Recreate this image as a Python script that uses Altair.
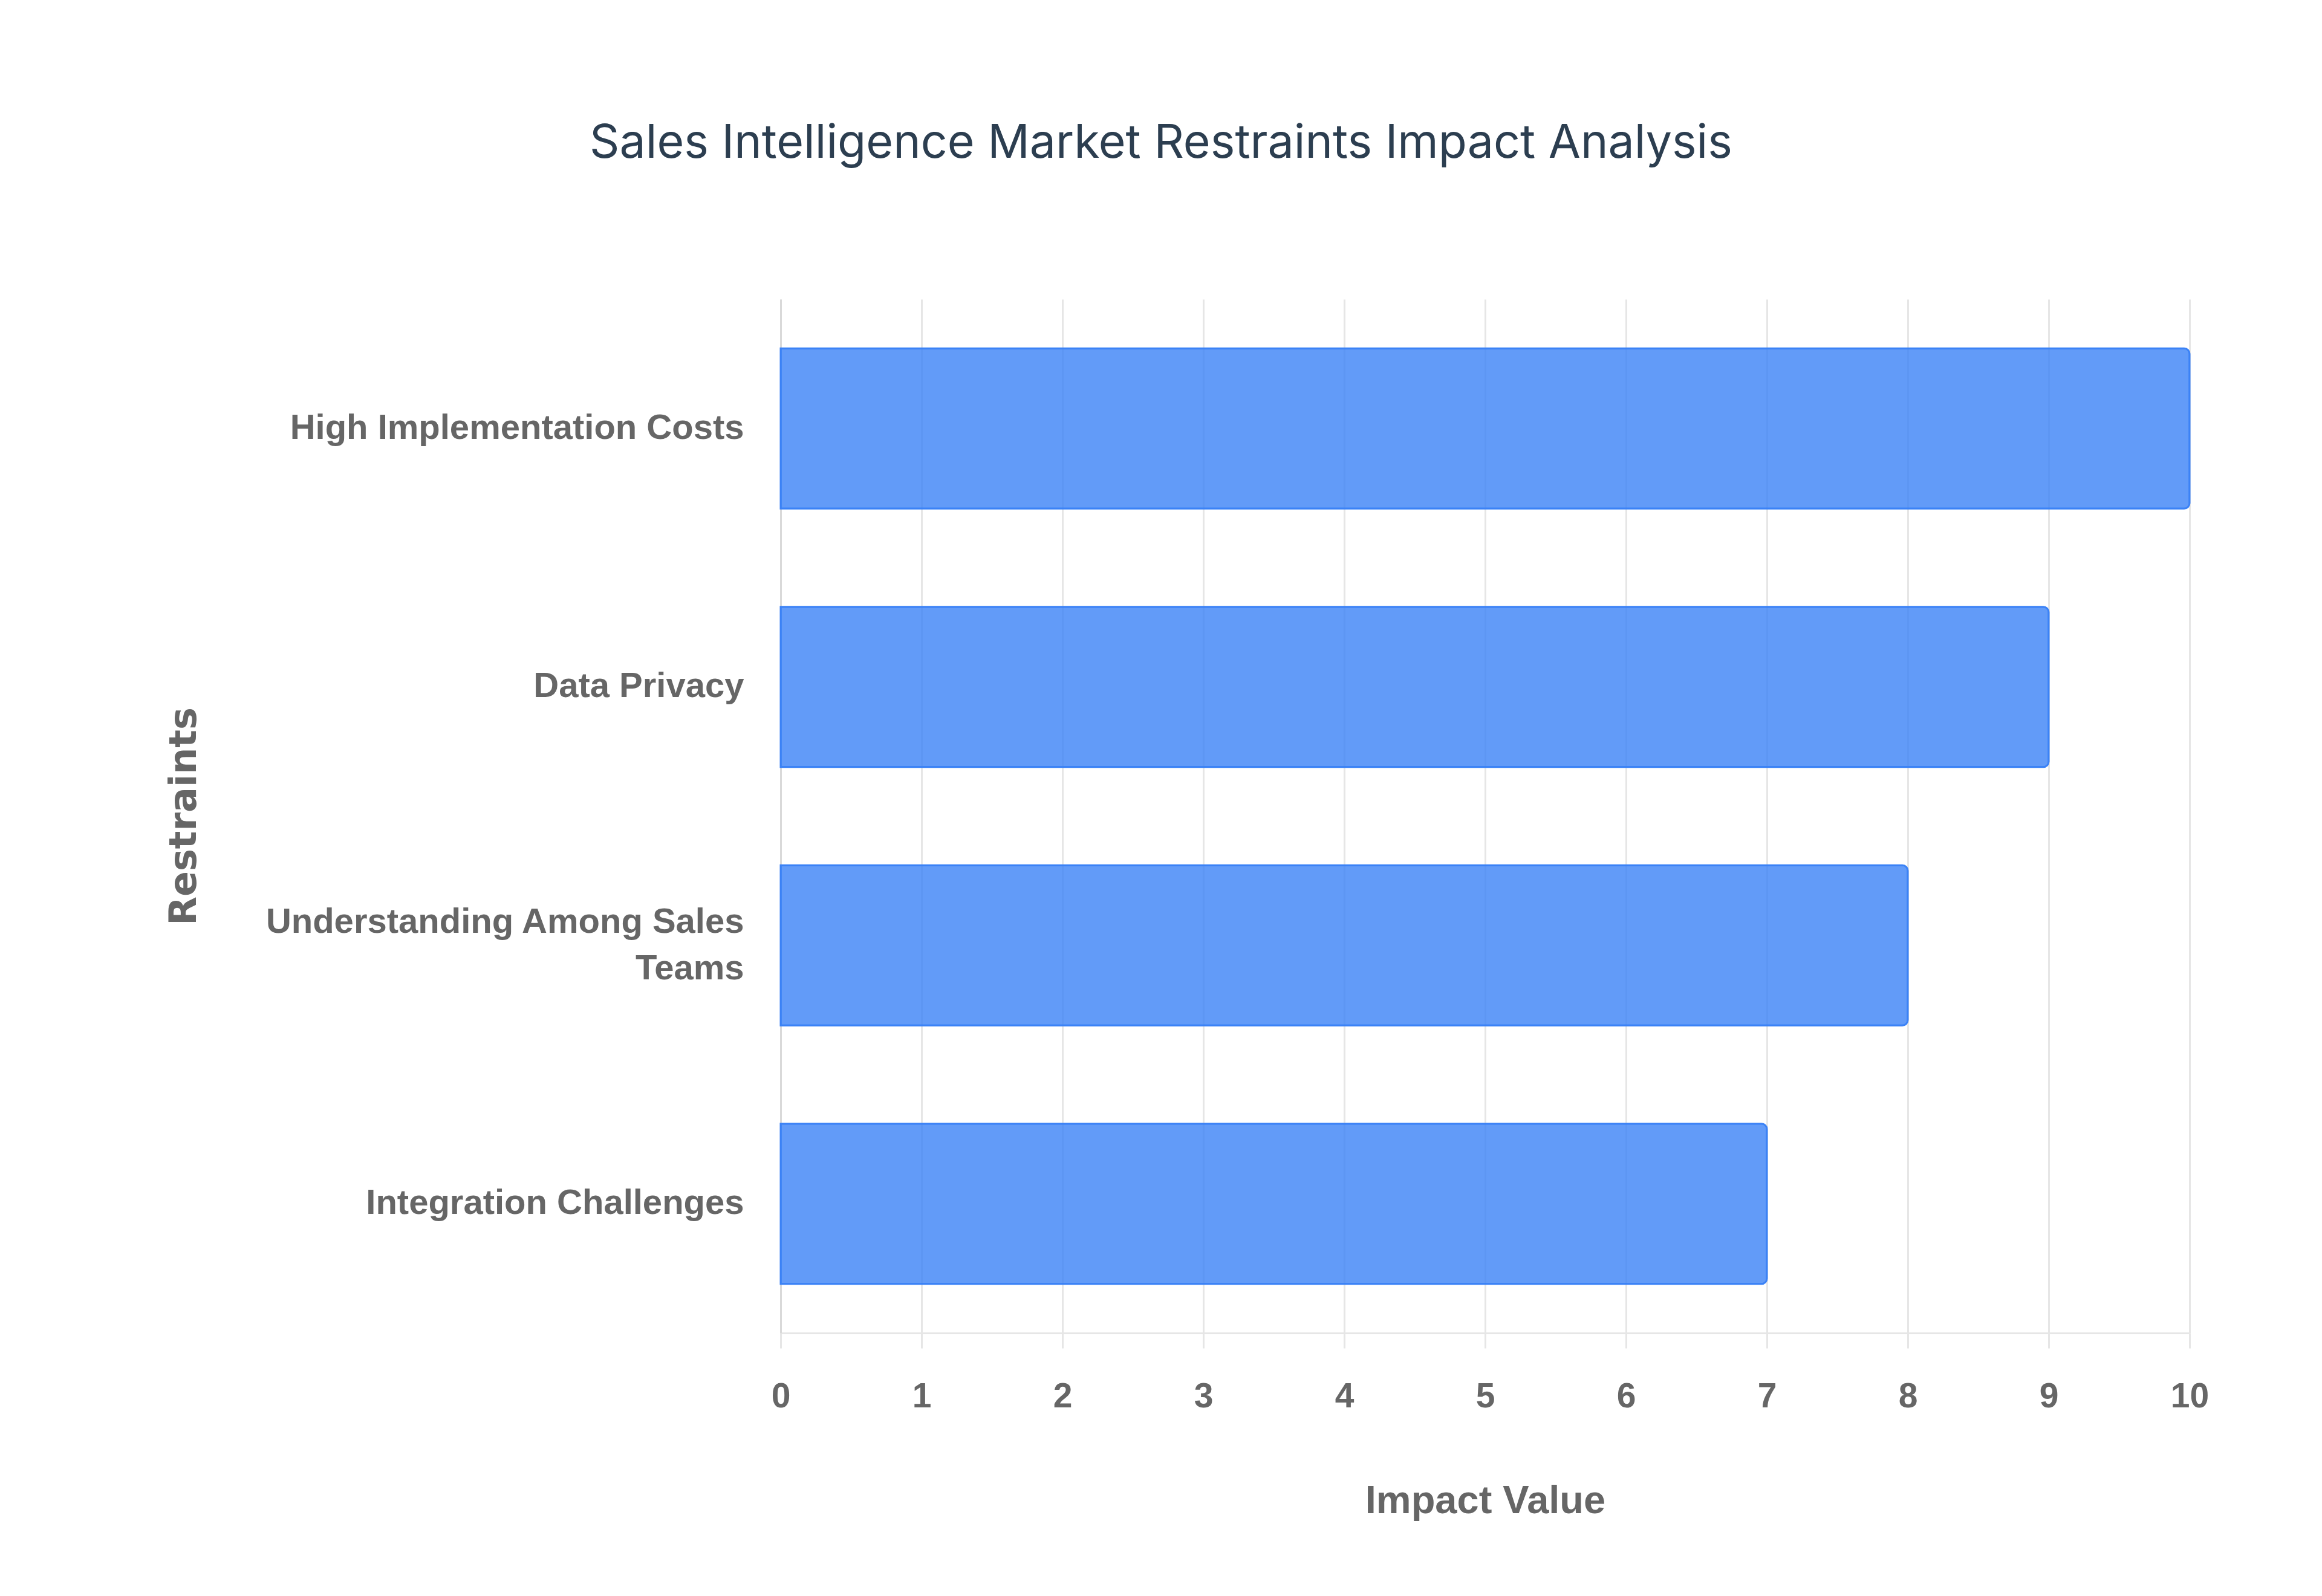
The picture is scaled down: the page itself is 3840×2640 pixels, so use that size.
import altair as alt
import pandas as pd

restraints = [
    "High Implementation Costs",
    "Data Privacy",
    "Understanding Among Sales Teams",
    "Integration Challenges",
]
impact = [10, 9, 8, 7]

df = pd.DataFrame({"restraint": restraints, "impact": impact})

long_label = "datum.label == 'Understanding Among Sales Teams'"
label_expr = long_label + " ? ['Understanding Among Sales', 'Teams'] : datum.label"

chart = alt.Chart(df).mark_bar(
    color="#3b82f6",
    fillOpacity=0.8,
    stroke="#3b82f6",
    strokeWidth=3,
    cornerRadiusEnd=9,
).encode(
    x=alt.X(
        "impact:Q",
        title="Impact Value",
        scale=alt.Scale(domain=[0, 10], nice=False),
        axis=alt.Axis(
            values=list(range(0, 11)),
            grid=True,
            gridColor="#e6e6e6",
            gridWidth=3,
            domainColor="#e6e6e6",
            domainWidth=3,
            tickColor="#e6e6e6",
            tickWidth=3,
            tickSize=25,
            labelFont="Liberation Sans",
            labelFontWeight="bold",
            labelFontSize=57,
            labelColor="#666666",
            labelPadding=80,
            labelBaseline="middle",
            labelFlush=False,
            titleFont="Liberation Sans",
            titleFontWeight="bold",
            titleFontSize=65,
            titleColor="#666666",
            titleBaseline="middle",
            titleY=277,
        ),
    ),
    y=alt.Y(
        "restraint:N",
        title="Restraints",
        sort=restraints,
        scale=alt.Scale(paddingInner=0.38, paddingOuter=0.19),
        axis=alt.Axis(
            grid=False,
            ticks=False,
            tickSize=0,
            domainColor="#d9d9d9",
            domainWidth=3,
            labelExpr=label_expr,
            labelOffset={"condition": {"test": long_label, "value": -38}, "value": 0},
            labelFont="Liberation Sans",
            labelFontWeight="bold",
            labelFontSize=58,
            labelColor="#666666",
            labelPadding=61,
            labelLineHeight=77,
            labelLimit=0,
            titleFont="DejaVu Sans",
            titleFontWeight="bold",
            titleFontSize=62,
            titleColor="#666666",
            titleAngle=270,
            titleAlign="center",
            titleBaseline="middle",
            titleX=-987,
            titleY=855,
        ),
    ),
).properties(
    width=2330,
    height=1710,
    autosize=alt.AutoSizeParams(type="none"),
    padding={"left": 1283, "top": 487, "right": 203, "bottom": 419},
    title=alt.TitleParams(
        "Sales Intelligence Market Restraints Impact Analysis",
        font="Inter",
        fontSize=77,
        fontWeight="normal",
        color="#2c3e50",
        anchor="middle",
        baseline="alphabetic",
        offset=157,
        dx=-536,
    ),
).configure_view(
    stroke=None
)

chart.save("out.html", embed_options={"renderer": "svg", "actions": False})
